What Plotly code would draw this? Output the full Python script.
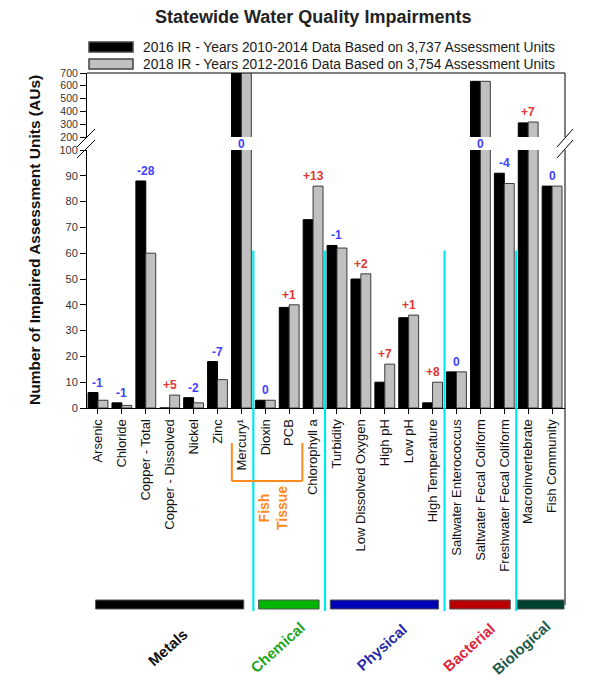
import plotly.graph_objects as go

# ---------------- data ----------------
categories = ["Arsenic", "Chloride", "Copper - Total", "Copper - Dissolved", "Nickel", "Zinc", "Mercury¹",
              "Dioxin", "PCB", "Chlorophyll a",
              "Turbidity", "Low Dissolved Oxygen", "High pH", "Low pH", "High Temperature",
              "Saltwater Enterococcus", "Saltwater Fecal Coliform", "Freshwater Fecal Coliform",
              "Macroinvertebrate", "Fish Community"]
aus_2016 = [6, 2, 88, 0, 4, 18, 980, 3, 39, 73, 63, 50, 10, 35, 2, 14, 635, 91, 310, 86]
aus_2018 = [3, 1, 60, 5, 2, 11, 980, 3, 40, 86, 62, 52, 17, 36, 10, 14, 635, 87, 317, 86]
change_labels = ["-1", "-1", "-28", "+5", "-2", "-7", "0", "0", "+1", "+13",
                 "-1", "+2", "+7", "+1", "+8", "0", "0", "-4", "+7", "0"]
series_names = ["2016 IR - Years 2010-2014 Data Based on 3,737 Assessment Units",
                "2018 IR - Years 2012-2016 Data Based on 3,754 Assessment Units"]
groups = ["Metals", "Chemical", "Physical", "Bacterial", "Biological"]
group_first = [0, 7, 10, 15, 18]
group_last = [6, 9, 14, 17, 19]
fish_tissue = ["Mercury¹", "Dioxin", "PCB"]
lower_ticks = [0, 10, 20, 30, 40, 50, 60, 70, 80, 90, 100]
upper_ticks = [200, 300, 400, 500, 600, 700]

# ---------------- styles ----------------
PAGE_W, PAGE_H = 593, 699
OFF = 8                      # page body margin
W, H = PAGE_W - 2 * OFF, PAGE_H - 2 * OFF
L, R, T, B = 87, 565, 73, 408   # plot-area edges in page pixels
FONT = "Liberation Sans"
BAR_COLORS = ["#000000", "#c0c0c0"]
BAR_LINES = ["#000000", "#3a3a3a"]
GROUP_FILL = ["#000000", "#00b400", "#0000b4", "#b80000", "#00402f"]
GROUP_TEXT = ["#111111", "#1fa51f", "#2b2ba8", "#e0263c", "#1b5a4c"]
GROUP_LABEL_SHIFT = [-0.1, -0.5, -0.15, -0.5, -0.8]
BLUE, RED = "#3f3fff", "#e03535"
CYAN = "#00e8f0"
ORANGE = "#ff8a1e"
LOWER_MAX, UPPER_MIN, UPPER_MAX = 100, 200, 700


def px(x):
    return (x - L) / (R - L)


def py(y):
    return (B - y) / (B - T)


LOWER_DOM = [0, py(150)]
UPPER_DOM = [py(137), 1]
n = len(categories)
idx = list(range(n))

fig = go.Figure()
for vals, name, col, lc in zip([aus_2016, aus_2018], series_names, BAR_COLORS, BAR_LINES):
    fig.add_trace(go.Bar(x=idx, y=vals, name=name, marker=dict(color=col, line=dict(color=lc, width=1)),
                         xaxis="x", yaxis="y", showlegend=False, hoverinfo="skip"))
for vals, name, col, lc in zip([aus_2016, aus_2018], series_names, BAR_COLORS, BAR_LINES):
    up = [v if v > UPPER_MIN else None for v in vals]
    fig.add_trace(go.Bar(x=idx, y=up, name=name, marker=dict(color=col, line=dict(color=lc, width=1)),
                         xaxis="x", yaxis="y2", showlegend=False, hoverinfo="skip"))

shapes = []
annotations = []


def note(**kw):
    kw.setdefault("showarrow", False)
    kw.setdefault("xanchor", "center")
    kw.setdefault("yanchor", "middle")
    annotations.append(kw)


# change labels
for i, lab in enumerate(change_labels):
    top = max(aus_2016[i], aus_2018[i])
    color = RED if lab.startswith("+") else BLUE
    f = dict(family=FONT, size=12, color=color)
    if top <= LOWER_MAX:
        note(x=i, y=top, xref="x", yref="y", text="<b>%s</b>" % lab, yanchor="bottom", yshift=1, font=f)
    elif top + 80 <= UPPER_MAX:
        note(x=i, y=top, xref="x", yref="y2", text="<b>%s</b>" % lab, yanchor="bottom", yshift=1, font=f)
    else:
        note(x=i, y=(LOWER_DOM[1] + UPPER_DOM[0]) / 2, xref="x", yref="paper", text="<b>%s</b>" % lab, font=f)

# frame: top and right
line_k = dict(color="#000000", width=1)
shapes.append(dict(type="line", xref="paper", yref="paper", x0=0, x1=1, y0=1, y1=1, line=line_k))
shapes.append(dict(type="line", xref="paper", yref="paper", x0=1, x1=1, y0=UPPER_DOM[0], y1=1, line=line_k))
shapes.append(dict(type="line", xref="paper", yref="paper", x0=1, x1=1, y0=py(605), y1=LOWER_DOM[1], line=line_k))
# break marks
for (xa, xb) in [(77, 95), (557, 573)]:
    for off in (0, 11):
        shapes.append(dict(type="line", xref="paper", yref="paper",
                           x0=px(xa), y0=py(147 + off), x1=px(xb), y1=py(129 + off),
                           line=dict(color="#000000", width=1)))

# cyan separators between groups
for k in range(1, len(groups)):
    xs = (group_last[k - 1] + group_first[k]) / 2
    shapes.append(dict(type="line", xref="x", yref="paper", x0=xs, x1=xs,
                       y0=py(611), y1=LOWER_DOM[1] * 61 / LOWER_MAX,
                       line=dict(color=CYAN, width=2.2)))

# group bars and labels
for k, g in enumerate(groups):
    left = -0.46 if k == 0 else (group_last[k - 1] + group_first[k]) / 2
    right = 19.5 if k == len(groups) - 1 else (group_last[k] + group_first[k + 1]) / 2
    x0 = left + (0.36 if k == 0 else 0.22) if k < len(groups) - 1 else left + 0.05
    x1 = right - 0.25 if k < len(groups) - 1 else right
    if k == 0:
        x1 = right - 0.4
    shapes.append(dict(type="rect", xref="x", yref="paper", x0=x0, x1=x1, y0=py(609), y1=py(600),
                       fillcolor=GROUP_FILL[k], line=dict(color="#555555", width=1)))
    mid = (group_first[k] + group_last[k]) / 2
    note(x=mid + GROUP_LABEL_SHIFT[k], y=py(647), xref="x", yref="paper",
         text="<b>%s</b>" % g, textangle=-42, font=dict(family=FONT, size=15, color=GROUP_TEXT[k]))

# Fish tissue bracket
fi = [categories.index(c) for c in fish_tissue]
bx0, bx1 = fi[0] - 0.4, fi[-1] + 0.55
ob = dict(color=ORANGE, width=2)
shapes.append(dict(type="line", xref="x", yref="paper", x0=bx0, x1=bx0, y0=py(443), y1=py(481), line=ob))
shapes.append(dict(type="line", xref="x", yref="paper", x0=bx1, x1=bx1, y0=py(443), y1=py(481), line=ob))
shapes.append(dict(type="line", xref="x", yref="paper", x0=bx0, x1=bx1, y0=py(481), y1=py(481), line=ob))
note(x=(bx0 + bx1) / 2 + 0.25, y=py(508), xref="x", yref="paper", text="<b>Fish<br>Tissue</b>",
     textangle=-90, font=dict(family=FONT, size=14, color=ORANGE))

# manual legend
for k, (name, col, lc) in enumerate(zip(series_names, BAR_COLORS, BAR_LINES)):
    yc = 47 + 17 * k
    shapes.append(dict(type="rect", xref="paper", yref="paper", x0=px(89), x1=px(133),
                       y0=py(yc + 5), y1=py(yc - 5), fillcolor=col, line=dict(color="#444444", width=1.5)))
    note(x=px(141), y=py(yc), xref="paper", yref="paper", text=name, xanchor="left",
         font=dict(family=FONT, size=13.8, color="#1a1a1a"))

# title and y title
note(x=px(313), y=py(17), xref="paper", yref="paper",
     text="<b>Statewide Water Quality Impairments</b>", font=dict(family=FONT, size=18, color="#222222"))
note(x=px(34), y=py(240), xref="paper", yref="paper",
     text="<b>Number of Impaired Assessment Units (AUs)</b>", textangle=-90,
     font=dict(family=FONT, size=15.5, color="#111111"))

fig.update_layout(
    width=W, height=H, margin=dict(l=L - OFF, r=W - (R - OFF), t=T - OFF, b=H - (B - OFF)),
    paper_bgcolor="white", plot_bgcolor="white",
    barmode="group", bargap=0.17, bargroupgap=0,
    showlegend=False,
    xaxis=dict(range=[-0.46, 19.54], tickmode="array", tickvals=idx, ticktext=categories,
               tickangle=-90, ticks="outside", ticklen=5, tickcolor="#000", showline=True,
               linecolor="#000", linewidth=1, showgrid=False, zeroline=False, anchor="y",
               tickfont=dict(family=FONT, size=13, color="#111111")),
    yaxis=dict(domain=LOWER_DOM, range=[0, LOWER_MAX], tickmode="array", tickvals=lower_ticks,
               ticks="outside", ticklen=6, tickcolor="#000", showline=True, linecolor="#000",
               linewidth=1, showgrid=False, zeroline=False, anchor="x",
               tickfont=dict(family=FONT, size=11, color="#333333")),
    yaxis2=dict(domain=UPPER_DOM, range=[UPPER_MIN, UPPER_MAX], tickmode="array", tickvals=upper_ticks,
                ticks="outside", ticklen=6, tickcolor="#000", showline=True, linecolor="#000",
                linewidth=1, showgrid=False, zeroline=False, anchor="x",
                tickfont=dict(family=FONT, size=10.5, color="#333333")),
    shapes=shapes, annotations=annotations,
)

fig.write_html("out.html")
